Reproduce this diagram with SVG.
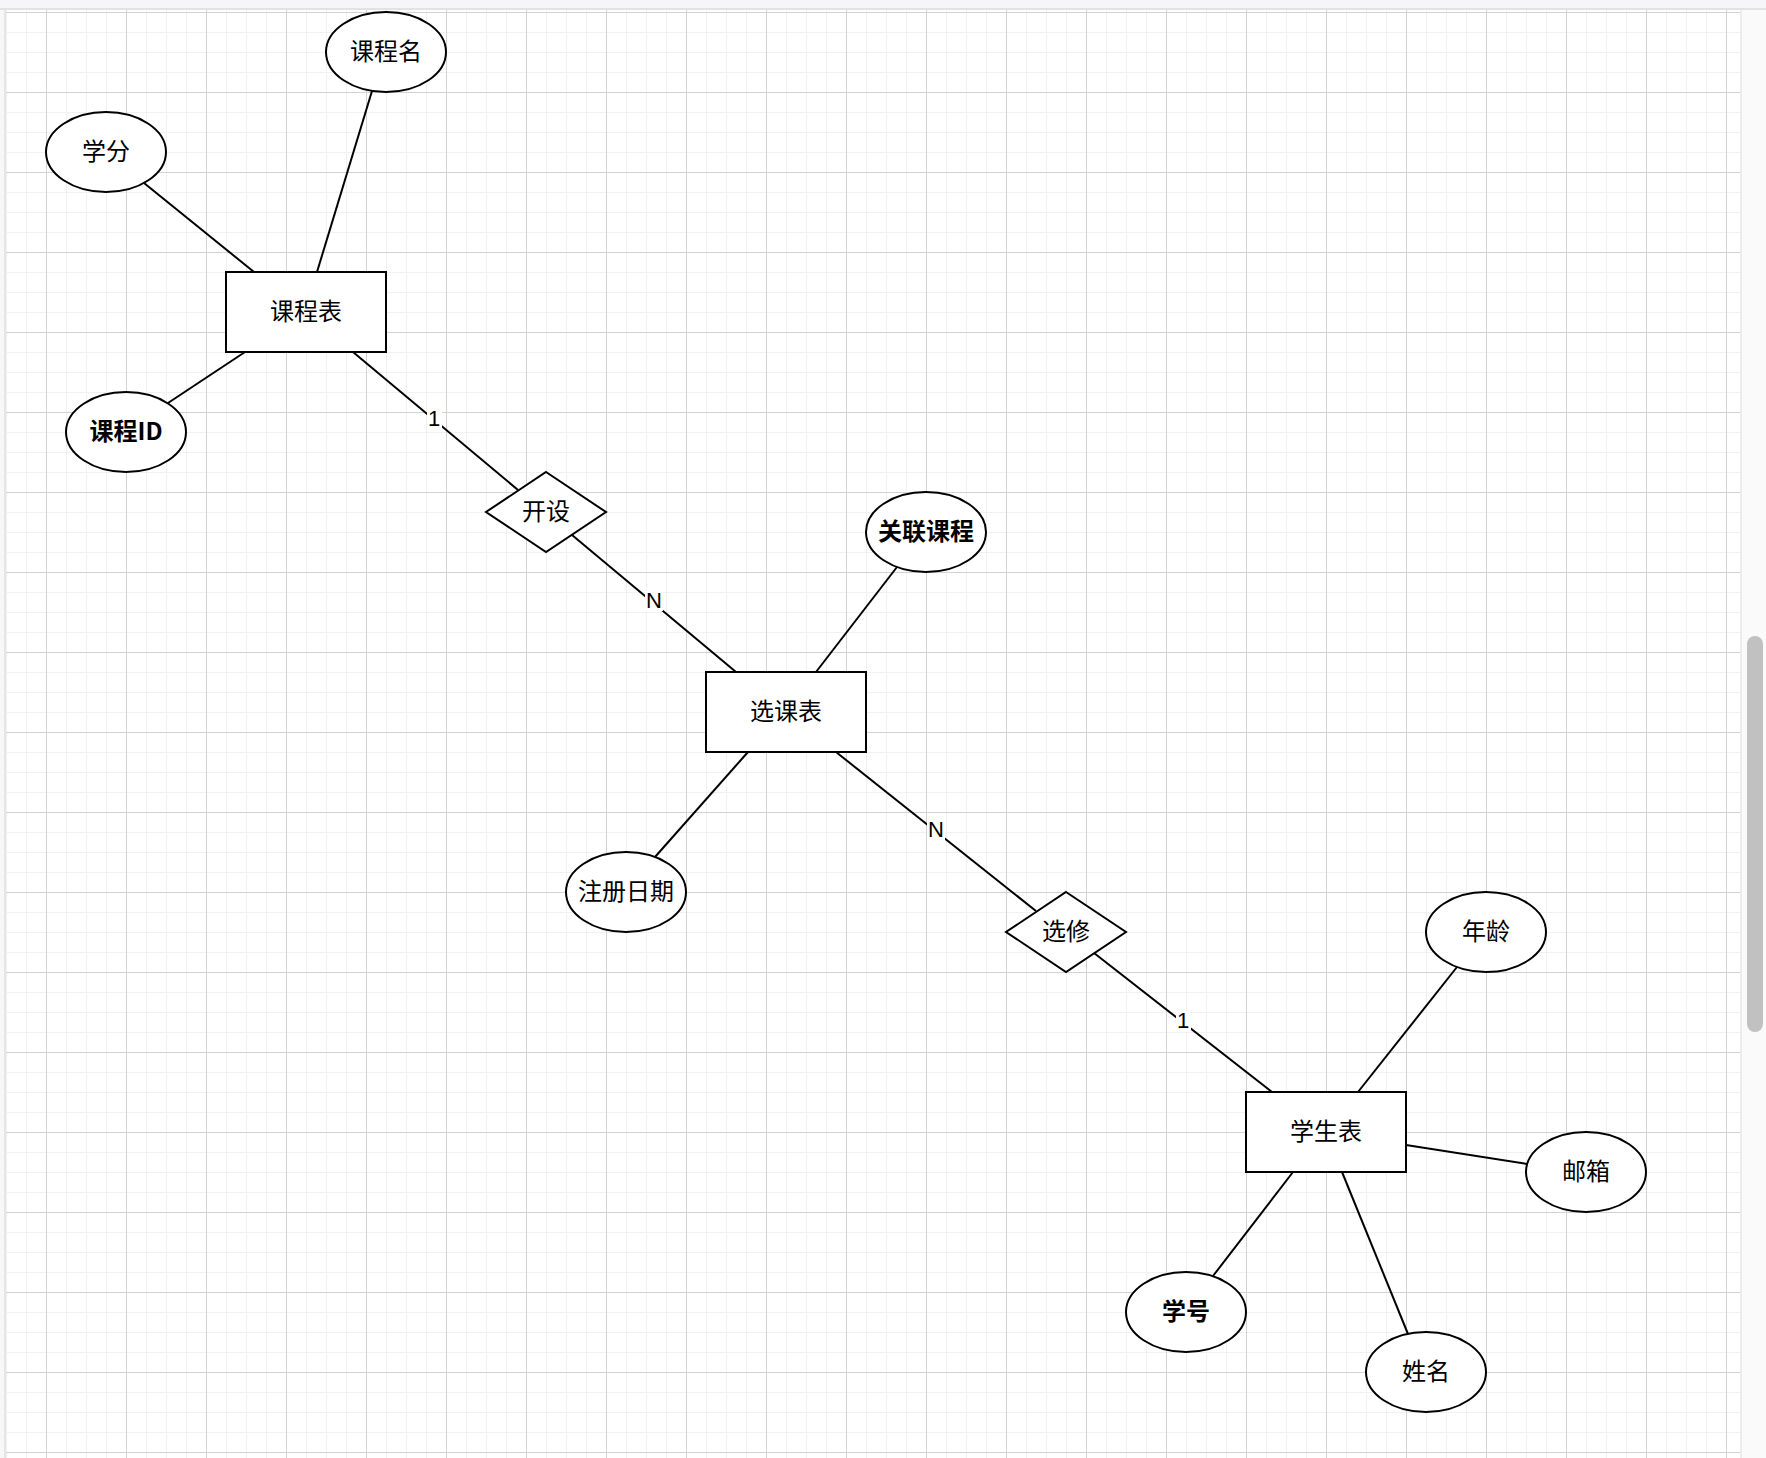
<svg xmlns="http://www.w3.org/2000/svg" width="1766" height="1458" viewBox="0 0 1766 1458">
<style>
.shape{fill:#ffffff;stroke:#000000;stroke-width:2}
.edge{stroke:#000000;stroke-width:2;fill:none}
.t{font-family:"Noto Sans CJK SC","Noto Sans",sans-serif;font-size:24px;fill:#000000;text-anchor:middle;dominant-baseline:central}
.b{font-weight:bold}
.lbl{font-family:"Liberation Sans",Arial,sans-serif;font-size:22px;fill:#000000;text-anchor:middle;dominant-baseline:central}
.lblbg{fill:#ffffff}
</style>
<defs>
<pattern id="grid" patternUnits="userSpaceOnUse" x="6" y="12" width="80" height="80">
<rect x="0" y="0" width="80" height="80" fill="#ffffff"/>
<rect x="0" y="0" width="1" height="80" fill="#f1f1f1"/>
<rect x="20" y="0" width="1" height="80" fill="#f1f1f1"/>
<rect x="60" y="0" width="1" height="80" fill="#f1f1f1"/>
<rect x="0" y="20" width="80" height="1" fill="#f1f1f1"/>
<rect x="0" y="40" width="80" height="1" fill="#f1f1f1"/>
<rect x="0" y="60" width="80" height="1" fill="#f1f1f1"/>
<rect x="40" y="0" width="1" height="80" fill="#d3d3d3"/>
<rect x="0" y="0" width="80" height="1" fill="#d3d3d3"/>
</pattern>
</defs>
<rect x="0" y="0" width="1766" height="1458" fill="#ffffff"/>
<rect x="0" y="0" width="1766" height="9" fill="#f6f6f8"/>
<rect x="0" y="8" width="1766" height="2" fill="#e2e2e4"/>
<rect x="0" y="10" width="5" height="1448" fill="#f7f7f7"/>
<rect x="4" y="10" width="2" height="1448" fill="#e6e6e6"/>
<rect x="6" y="10" width="1734" height="1448" fill="url(#grid)"/>
<rect x="1740" y="10" width="2" height="1448" fill="#ececec"/>
<rect x="1742" y="10" width="24" height="1448" fill="#fafafa"/>
<rect x="1747" y="636" width="16" height="396" rx="8" ry="8" fill="#c1c1c1"/>

<g id="connectors">
<line class="edge" x1="144" y1="183" x2="254" y2="272"/>
<line class="edge" x1="372" y1="91" x2="317" y2="272"/>
<line class="edge" x1="168" y1="403" x2="245" y2="352"/>
<line class="edge" x1="353" y1="352" x2="518" y2="490"/>
<line class="edge" x1="572" y1="535" x2="736" y2="672"/>
<line class="edge" x1="897" y1="567" x2="816" y2="672"/>
<line class="edge" x1="748" y1="752" x2="655" y2="857"/>
<line class="edge" x1="836" y1="752" x2="1036" y2="911"/>
<line class="edge" x1="1094" y1="953" x2="1272" y2="1092"/>
<line class="edge" x1="1457" y1="967" x2="1358" y2="1092"/>
<line class="edge" x1="1406" y1="1145" x2="1527" y2="1164"/>
<line class="edge" x1="1293" y1="1172" x2="1213" y2="1276"/>
<line class="edge" x1="1342" y1="1172" x2="1408" y2="1334"/>
<rect class="lblbg" x="427" y="409" width="15" height="20"/>
<text class="lbl" x="434" y="418">1</text>
<rect class="lblbg" x="645" y="591" width="18" height="20"/>
<text class="lbl" x="654" y="600">N</text>
<rect class="lblbg" x="927" y="820" width="18" height="20"/>
<text class="lbl" x="936" y="829">N</text>
<rect class="lblbg" x="1176" y="1011" width="15" height="20"/>
<text class="lbl" x="1183" y="1020">1</text>
</g>

<g id="course-table"><rect class="shape" x="226" y="272" width="160" height="80"/><text class="t" x="306" y="309">课程表</text></g>
<g id="course-name"><ellipse class="shape" cx="386" cy="52" rx="60" ry="40"/><text class="t" x="386" y="49">课程名</text></g>
<g id="credit"><ellipse class="shape" cx="106" cy="152" rx="60" ry="40"/><text class="t" x="106" y="149">学分</text></g>
<g id="course-id"><ellipse class="shape" cx="126" cy="432" rx="60" ry="40"/><text class="t b" x="126" y="429">课程ID</text></g>
<g id="offer"><polygon class="shape" points="546,472 606,512 546,552 486,512"/><text class="t" x="546" y="509">开设</text></g>
<g id="enroll-table"><rect class="shape" x="706" y="672" width="160" height="80"/><text class="t" x="786" y="709">选课表</text></g>
<g id="linked-course"><ellipse class="shape" cx="926" cy="532" rx="60" ry="40"/><text class="t b" x="926" y="529">关联课程</text></g>
<g id="reg-date"><ellipse class="shape" cx="626" cy="892" rx="60" ry="40"/><text class="t" x="626" y="889">注册日期</text></g>
<g id="elective"><polygon class="shape" points="1066,892 1126,932 1066,972 1006,932"/><text class="t" x="1066" y="929">选修</text></g>
<g id="student-table"><rect class="shape" x="1246" y="1092" width="160" height="80"/><text class="t" x="1326" y="1129">学生表</text></g>
<g id="age"><ellipse class="shape" cx="1486" cy="932" rx="60" ry="40"/><text class="t" x="1486" y="929">年龄</text></g>
<g id="email"><ellipse class="shape" cx="1586" cy="1172" rx="60" ry="40"/><text class="t" x="1586" y="1169">邮箱</text></g>
<g id="student-id"><ellipse class="shape" cx="1186" cy="1312" rx="60" ry="40"/><text class="t b" x="1186" y="1309">学号</text></g>
<g id="student-name"><ellipse class="shape" cx="1426" cy="1372" rx="60" ry="40"/><text class="t" x="1426" y="1369">姓名</text></g>
</svg>
